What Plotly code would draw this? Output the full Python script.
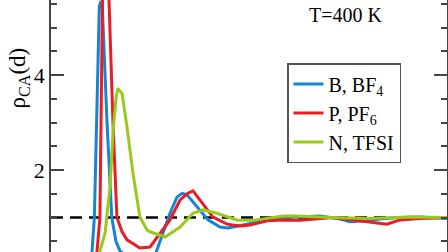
import plotly.graph_objects as go

# Data (d in arbitrary distance units)
d_blue = [1.77, 2.07, 2.19, 2.27, 2.44, 2.53, 2.59, 2.83, 3.07, 3.28, 3.48, 3.89, 4.75, 5.25, 5.66,
          6.01, 6.36, 6.62, 6.87, 7.37, 7.93, 8.54, 8.94, 9.90, 10.71, 11.72, 12.58, 13.59, 14.6,
          15.1, 15.86, 16.87, 17.63, 18.64, 20.0]
rho_blue = [0.0, 0.27, 1.0, 2.5, 5.45, 5.56, 5.45, 3.0, 1.0, 0.5, 0.3, 0.15, 0.12, 0.2, 0.67,
            1.09, 1.43, 1.51, 1.48, 1.22, 0.95, 0.80, 0.78, 0.86, 0.95, 1.0, 1.02, 1.03, 0.97,
            0.91, 0.93, 0.98, 1.0, 1.01, 0.98]

d_red = [1.97, 2.32, 2.47, 2.6, 2.73, 2.83, 2.93, 3.13, 3.33, 3.59, 3.84, 4.49, 5.0, 5.51, 6.01,
         6.52, 6.87, 7.17, 7.53, 8.18, 8.89, 9.55, 10.05, 10.91, 11.72, 12.58, 14.24, 15.61,
         16.97, 17.63, 18.64, 20.0]
rho_red = [0.0, 0.27, 1.0, 5.58, 6.3, 6.1, 5.58, 3.0, 1.0, 0.7, 0.53, 0.36, 0.38, 0.67, 0.95,
           1.37, 1.5, 1.56, 1.37, 1.01, 0.86, 0.82, 0.84, 0.93, 0.95, 0.94, 1.0, 0.93,
           0.86, 0.95, 0.98, 1.0]

d_green = [2.27, 2.47, 2.73, 2.98, 3.13, 3.28, 3.38, 3.59, 3.84, 4.14, 4.49, 4.85, 5.0, 5.76,
           6.52, 7.17, 7.68, 8.38, 9.39, 10.2, 11.06, 11.72, 12.42, 14.09, 16.11, 18.13, 20.0]
rho_green = [0.0, 0.27, 0.67, 1.64, 2.78, 3.5, 3.72, 3.61, 2.9, 1.93, 1.01, 0.74, 0.7, 0.59,
             0.8, 1.09, 1.16, 1.09, 0.95, 0.94, 1.0, 1.03, 1.03, 1.0, 0.98, 1.01, 1.0]

names = ["B, BF<sub>4</sub>", "P, PF<sub>6</sub>", "N, TFSI"]
colors = ["#1585d2", "#ec1c24", "#99c91a"]
ref_x = [0, 20]
ref_y = [1, 1]

serif = "Liberation Serif"
fig = go.Figure()
fig.add_trace(go.Scatter(x=ref_x, y=ref_y, mode="lines", showlegend=False,
                         line=dict(color="black", width=2.5, dash="12px,7px")))
for dx, dy, n, c in [(d_blue, rho_blue, names[0], colors[0]),
                     (d_red, rho_red, names[1], colors[1]),
                     (d_green, rho_green, names[2], colors[2])]:
    fig.add_trace(go.Scatter(x=dx, y=dy, mode="lines", name=n,
                             line=dict(color=c, width=3)))

fig.update_layout(
    width=448, height=252,
    margin=dict(l=51, r=1, t=0, b=0),
    plot_bgcolor="white", paper_bgcolor="white",
    font=dict(family=serif, size=20, color="black"),
    showlegend=True,
    legend=dict(x=0.596, y=0.75, xanchor="left", yanchor="top",
                bordercolor="#555", borderwidth=1.5, bgcolor="white",
                font=dict(family=serif, size=20), tracegroupgap=0),
    xaxis=dict(range=[0, 20], showline=False, showgrid=False, zeroline=False,
               showticklabels=False, ticks=""),
    yaxis=dict(range=[0.274, 5.58], showline=True, linecolor="#444", linewidth=1.5,
               mirror="ticks", showgrid=False, zeroline=False,
               tick0=0, dtick=2, ticks="inside", ticklen=13, tickcolor="#444", tickwidth=1.5,
               tickfont=dict(family=serif, size=22),
               minor=dict(dtick=0.5, ticks="inside", ticklen=6, tickcolor="#444", tickwidth=1.5)),
    annotations=[
        dict(text="ρ<sub>CA</sub>(d)", x=-0.08, y=0.69, xref="paper", yref="paper",
             xanchor="center", yanchor="middle",
             textangle=-90, showarrow=False, font=dict(family=serif, size=23)),
        dict(text="T=400 K", x=(307 - 51) / 396, y=1 - 15 / 252, xref="paper", yref="paper",
             showarrow=False, xanchor="left", yanchor="middle", font=dict(family=serif, size=20)),
    ],
)
fig.write_html("out.html")
